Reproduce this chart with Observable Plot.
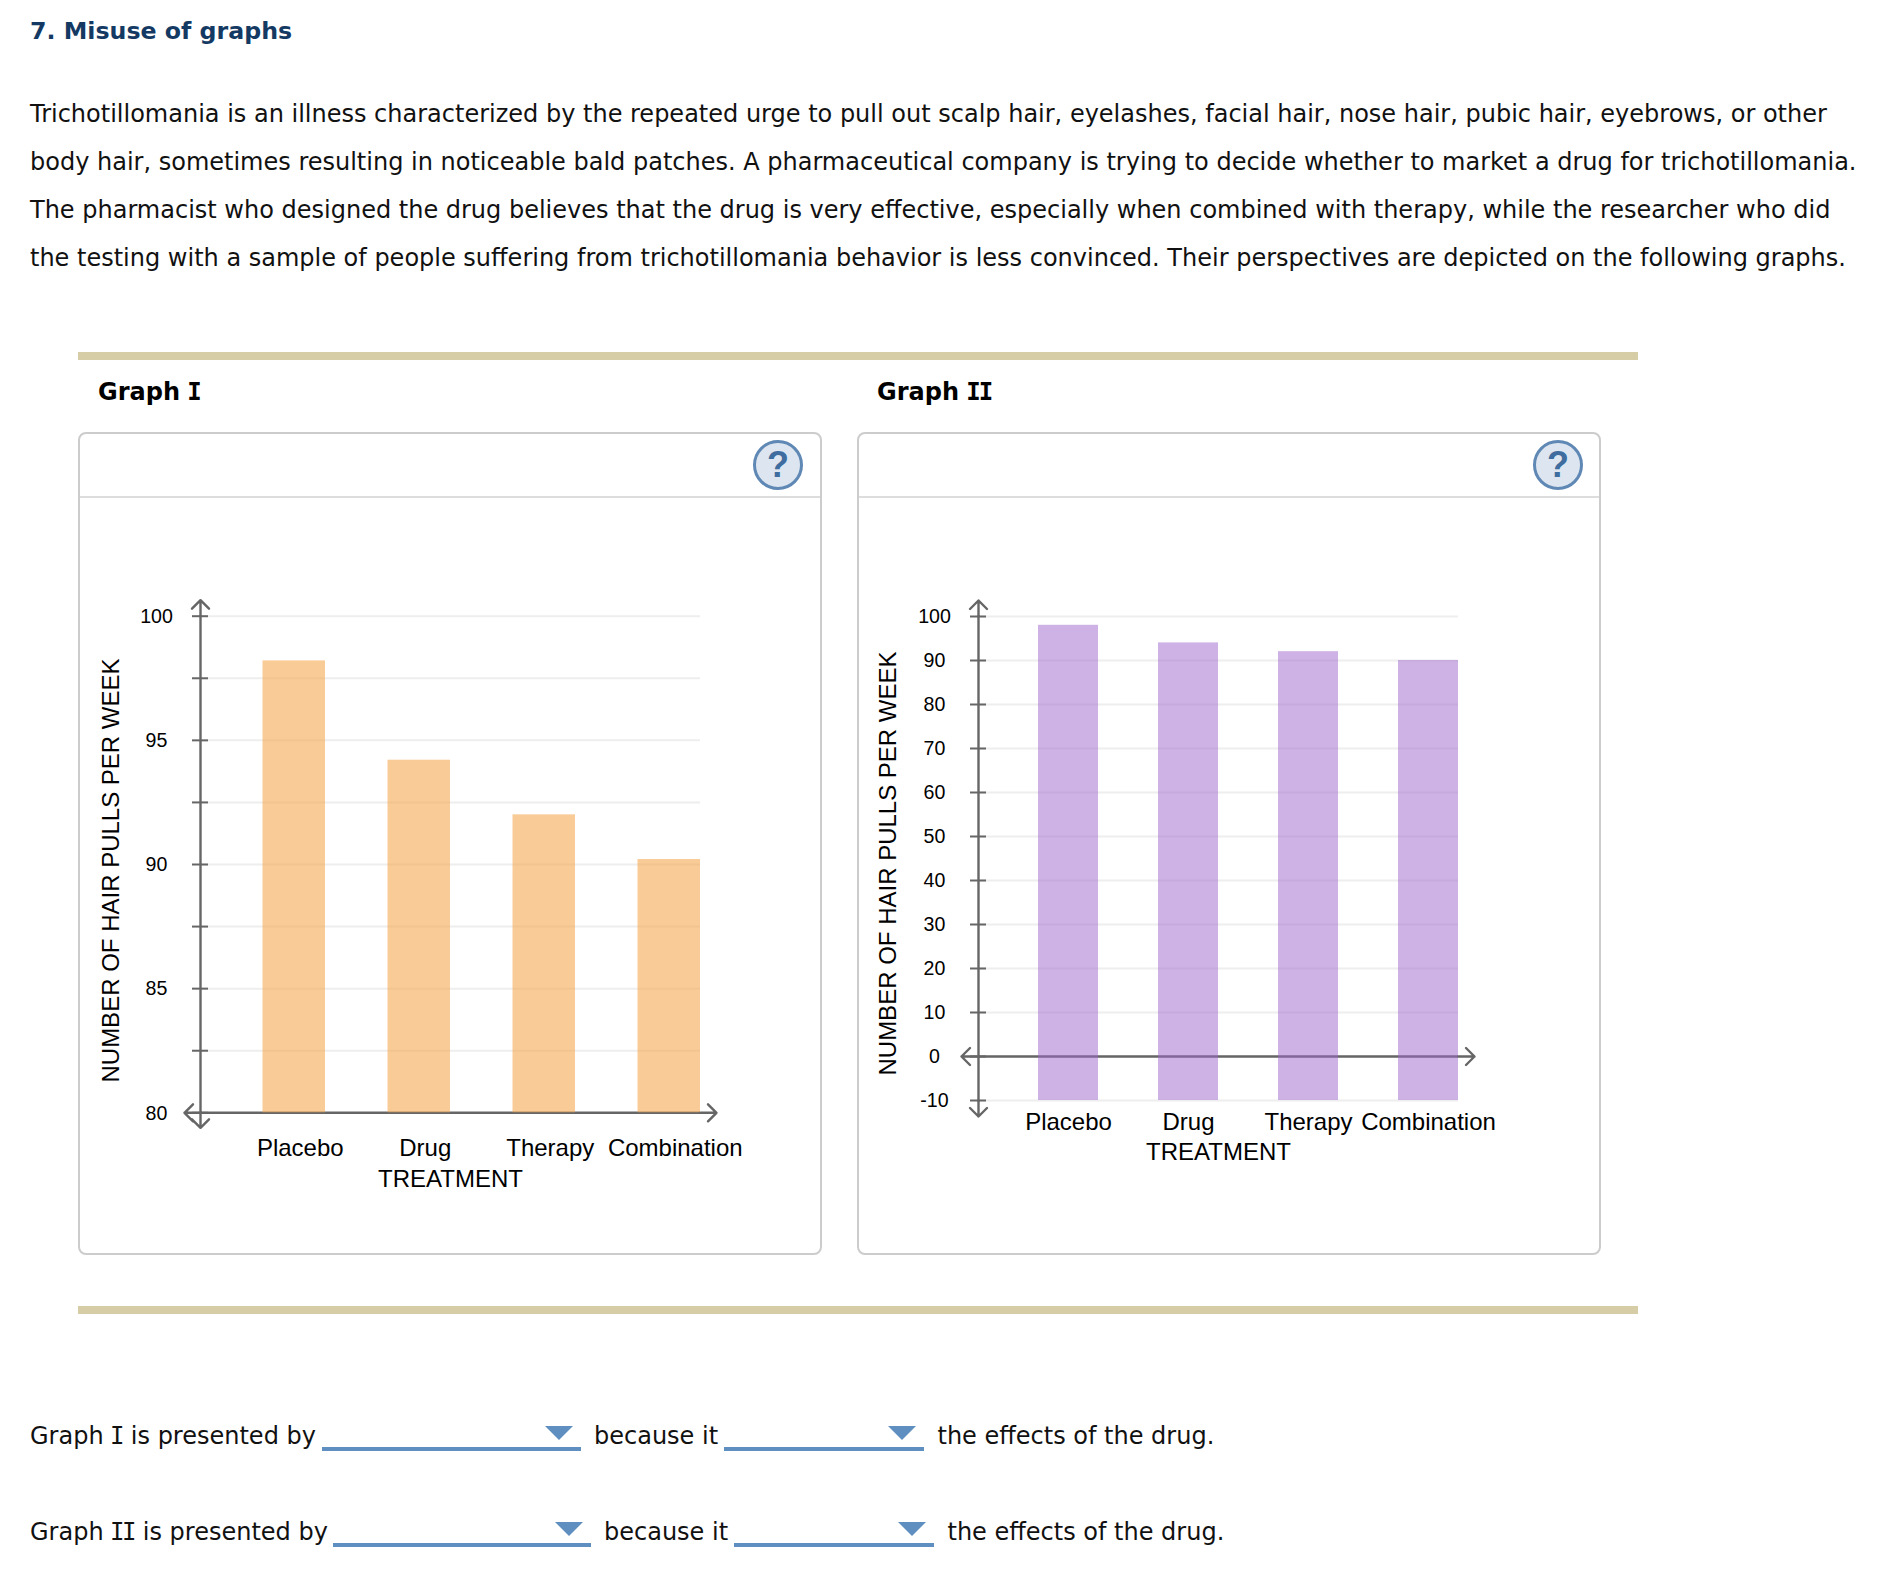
<!DOCTYPE html>
<html><head><meta charset="utf-8">
<script src="https://cdn.jsdelivr.net/npm/d3@7"></script>
<script src="https://cdn.jsdelivr.net/npm/@observablehq/plot@0.6"></script>
<style>
html,body{margin:0;padding:0;background:#fff;overflow:hidden}
#page{position:relative;width:1886px;height:1574px;font-family:"DejaVu Sans",sans-serif;color:#111}
.t{position:absolute;white-space:nowrap;line-height:1;transform:translateY(-50%)}
.t .i{font-family:"DejaVu Sans Mono",monospace;margin:0 -1.25px}
.t.b .i{margin:0 -1px}
.rule{position:absolute;left:78px;width:1560px;height:8px;background:#d6cca6}
.panel{position:absolute;top:432px;height:819px;box-sizing:content-box;border:2px solid #ccc;border-radius:8px;background:#fff}
.sep{position:absolute;left:0;right:0;top:62px;height:2px;background:#ddd}
.help{position:absolute;top:440px;width:44px;height:44px;border:3px solid #5f88b5;border-radius:50%;background:#dde6f0;color:#3f6d9f;font:bold 36px/44px "Liberation Sans",sans-serif;text-align:center}
.chart{position:absolute;top:432px}
.chart svg{display:block;background:transparent}
.sel{position:absolute;height:4px;background:#5f8fc0}
.tri{position:absolute;width:0;height:0;border-left:14px solid transparent;border-right:14px solid transparent;border-top:14px solid #5f8fc0}
</style></head>
<body><div id="page"></div>
<script>
const heading = "7. Misuse of graphs";
const bodyLines = [
 "Trichotillomania is an illness characterized by the repeated urge to pull out scalp hair, eyelashes, facial hair, nose hair, pubic hair, eyebrows, or other",
 "body hair, sometimes resulting in noticeable bald patches. A pharmaceutical company is trying to decide whether to market a drug for trichotillomania.",
 "The pharmacist who designed the drug believes that the drug is very effective, especially when combined with therapy, while the researcher who did",
 "the testing with a sample of people suffering from trichotillomania behavior is less convinced. Their perspectives are depicted on the following graphs."
];
const treatments = ["Placebo","Drug","Therapy","Combination"];
const graph1Values = [98.2,94.2,92,90.2];
const graph2Values = [98,94,92,90];
const graph1Ticks = [80,82.5,85,87.5,90,92.5,95,97.5,100];
const graph1Grid = [82.5,85,87.5,90,92.5,95,97.5,100];
const graph1Labels = [80,85,90,95,100];
const graph2Ticks = [-10,0,10,20,30,40,50,60,70,80,90,100];
const yTitle = "NUMBER OF HAIR PULLS PER WEEK";
const xTitle = "TREATMENT";

const page = document.getElementById("page");
function add(cls, style, text){
  const e = document.createElement("div"); e.className = cls;
  Object.assign(e.style, style); if(text!=null) e.textContent = text;
  page.appendChild(e); return e;
}
// "Graph I" / "Graph II" text: the numeral's I is serifed in the reference
function addGraphText(cls, style, prefix, numeral, suffix){
  const e = add(cls, style);
  e.appendChild(document.createTextNode(prefix));
  for(const ch of numeral){ const s=document.createElement("span"); s.className="i"; s.textContent=ch; e.appendChild(s); }
  e.appendChild(document.createTextNode(suffix));
}
const FS = "24px";
add("t",{left:"30px",top:"31.5px",fontWeight:"bold",fontSize:"23.7px",color:"#143a63"},heading);
bodyLines.forEach((l,i)=>add("t",{left:"30px",top:(113.6+48*i)+"px",fontSize:FS},l));
add("rule",{top:"352px"}); add("rule",{top:"1306px"});
addGraphText("t b",{left:"98px",top:"392px",fontWeight:"bold",fontSize:FS,color:"#000"},"Graph ","I","");
addGraphText("t b",{left:"877px",top:"392px",fontWeight:"bold",fontSize:FS,color:"#000"},"Graph ","II","");
[[78,740],[857,740]].forEach(([x,w])=>{
  const p = add("panel",{left:x+"px",width:w+"px"});
  const s = document.createElement("div"); s.className="sep"; p.appendChild(s);
});
[753,1533].forEach(x=>add("help",{left:x+"px"},"?"));

const ink = "#666";
const wing = 8.5;
const chevron = {draw(c,l){c.moveTo(0,0);c.lineTo(0,-l);c.lineTo(-wing,wing-l);c.moveTo(0,-l);c.lineTo(wing,wing-l);}};

function chart({values,ticks,grid,labels,domain,base,fill,opacity,left,width,m,tickDx,tickPad,labelDy,xBase,up,down,lft,rgt,titleDx,titleDy,xDy}){
  const rows = treatments.map((t,i)=>({t,v:values[i]}));
  const plot = Plot.plot({
    width,height:821,marginLeft:m[0],marginRight:m[1],marginTop:m[2],marginBottom:m[3],
    style:{fontFamily:'"Liberation Sans",Arial,sans-serif',color:"#000",background:"transparent"},
    x:{domain:treatments,paddingInner:.5,paddingOuter:.25,align:1,round:false,axis:null,label:null},
    y:{domain,axis:null,label:null},
    marks:[
      Plot.gridY(grid,{stroke:"#eee",strokeOpacity:1,strokeWidth:2}),
      Plot.ruleY([xBase],{stroke:ink,strokeWidth:2.4}),
      Plot.frame({anchor:"left",stroke:ink,strokeWidth:2.4}),
      Plot.barY(rows,{x:"t",y1:()=>base,y2:"v",fill,fillOpacity:opacity}),
      Plot.axisY(ticks,{anchor:"left",tickSize:16,dx:8,tickFormat:()=>"",stroke:ink,strokeWidth:2,label:null,color:ink}),
      Plot.axisY(labels,{anchor:"left",tickSize:0,tickPadding:tickPad,textAnchor:"middle",fontSize:19.6,dy:labelDy,label:null,tickFormat:d=>String(d).replace("−","-")}),
      Plot.axisX({anchor:"bottom",tickSize:0,tickPadding:xDy[0],dx:tickDx,fontSize:24,label:null}),
      Plot.vector([d3.max(ticks)],{y:d=>d,frameAnchor:"left",rotate:0,length:up,anchor:"start",shape:chevron,stroke:ink,strokeWidth:2.4}),
      Plot.vector([d3.min(ticks)],{y:d=>d,frameAnchor:"left",rotate:180,length:down,anchor:"start",shape:chevron,stroke:ink,strokeWidth:2.4}),
      Plot.vector([xBase],{y:d=>d,frameAnchor:"left",rotate:-90,length:lft,anchor:"start",shape:chevron,stroke:ink,strokeWidth:2.4}),
      Plot.vector([xBase],{y:d=>d,frameAnchor:"right",rotate:90,length:rgt,anchor:"start",shape:chevron,stroke:ink,strokeWidth:2.4}),
      Plot.text([yTitle],{frameAnchor:"left",textAnchor:"middle",rotate:-90,dx:titleDx,dy:titleDy,fontSize:24,fill:"#000"}),
      Plot.text([xTitle],{frameAnchor:"bottom",dy:xDy[1],fontSize:24,fill:"#000"})
    ]
  });
  const w = add("chart",{left:left+"px"}); w.appendChild(plot);
}
chart({values:graph1Values,ticks:graph1Ticks,grid:graph1Grid,labels:graph1Labels,domain:[80,100],base:80,
  fill:"#f4a64c",opacity:.58,left:78,width:743,m:[122,121,183.7,140.7],tickDx:6,tickPad:44,labelDy:.5,xBase:80,up:16,down:15,lft:16,rgt:16,titleDx:-89.2,titleDy:6,xDy:[26,74]});
chart({values:graph2Values,ticks:graph2Ticks,grid:graph2Ticks,labels:graph2Ticks,domain:[-10,100],base:-10,
  fill:"#9e66ce",opacity:.5,left:858,width:742,m:[120,142,184,153],tickDx:0,tickPad:44,labelDy:0,xBase:0,up:16,down:16,lft:17,rgt:16,titleDx:-90.5,titleDy:5,xDy:[12,59]});

function sentence(y,numeral,parts){
  addGraphText("t",{left:"30px",top:y+"px",fontSize:FS},"Graph ",numeral," is presented by");
  parts.forEach(p=>{
    if(p.text) add("t",{left:p.x+"px",top:y+"px",fontSize:FS},p.text);
    else { add("sel",{left:p.x+"px",width:p.w+"px",top:(y+11.5)+"px"}); add("tri",{left:(p.x+p.w-36)+"px",top:(y-9.5)+"px"}); }
  });
}
sentence(1435.5,"I",[{x:322,w:259},{x:594,text:"because it"},{x:724,w:200},{x:937.5,text:"the effects of the drug."}]);
sentence(1531.5,"II",[{x:333,w:258},{x:604,text:"because it"},{x:734,w:200},{x:947.5,text:"the effects of the drug."}]);
</script></body></html>
